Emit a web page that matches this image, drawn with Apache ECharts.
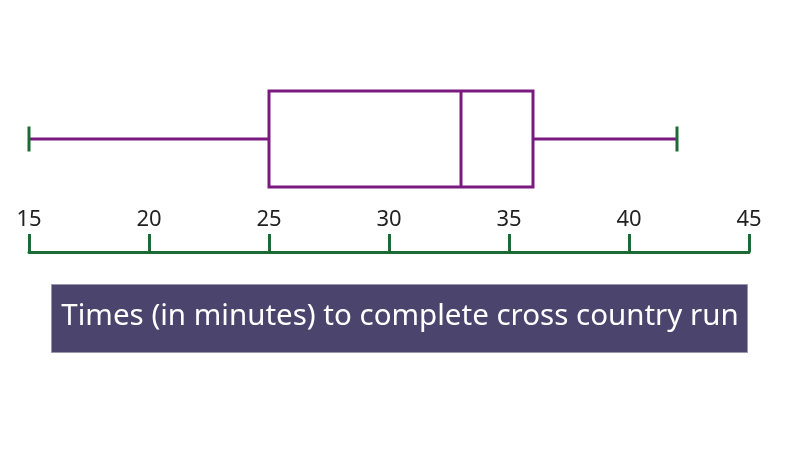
<!DOCTYPE html>
<html><head><meta charset="utf-8">
<script src="https://cdn.jsdelivr.net/npm/echarts@6/dist/echarts.min.js"></script>
<style>html,body{margin:0;padding:0;background:#fff}#c{width:800px;height:450px}</style>
</head><body><div id="c"></div>
<script>
const categories = ['Times'];
const boxValues = [[15, 25, 33, 36, 42]]; // min, Q1, median, Q3, max
const axisMin = 15, axisMax = 45, axisStep = 5;
const titleText = 'Times (in minutes) to complete cross country run';

const purple = '#7a1a80', green = '#1c6b34';
const chart = echarts.init(document.getElementById('c'));
chart.setOption({
  animation: false,
  grid: [
    {left: 29, right: 51, top: 60, bottom: 198},
    {left: 29, right: 51, top: 91, height: 96}
  ],
  xAxis: [
    {gridIndex: 0, type: 'value', min: axisMin, max: axisMax, interval: axisStep,
     axisLine: {show: true, lineStyle: {color: green, width: 3}},
     axisTick: {show: true, inside: true, length: 18, lineStyle: {color: green, width: 3}},
     axisLabel: {inside: true, margin: 21, color: '#222', fontSize: 22, fontFamily: 'Noto Sans',
                 verticalAlign: 'bottom'},
     splitLine: {show: false}},
    {gridIndex: 1, type: 'value', min: axisMin, max: axisMax, show: false}
  ],
  yAxis: [
    {gridIndex: 0, type: 'value', show: false},
    {gridIndex: 1, type: 'category', data: categories, show: false}
  ],
  series: [{
    type: 'custom', xAxisIndex: 1, yAxisIndex: 1,
    data: boxValues.map((v, i) => [i].concat(v)),
    encode: {x: [1, 2, 3, 4, 5], y: 0},
    renderItem: function (params, api) {
      const ci = api.value(0);
      const band = api.size([0, 1])[1];
      const pMin = api.coord([api.value(1), ci]);
      const pQ1 = api.coord([api.value(2), ci]);
      const pMed = api.coord([api.value(3), ci]);
      const pQ3 = api.coord([api.value(4), ci]);
      const pMax = api.coord([api.value(5), ci]);
      const cy = pMin[1];
      const h = band, top = cy - h / 2, bot = cy + h / 2;
      const capH = 25;
      const ls = {stroke: purple, lineWidth: 3, fill: null};
      return {type: 'group', children: [
        {type: 'line', shape: {x1: pMin[0], y1: cy, x2: pQ1[0], y2: cy}, style: ls},
        {type: 'line', shape: {x1: pQ3[0], y1: cy, x2: pMax[0], y2: cy}, style: ls},
        {type: 'rect', shape: {x: pQ1[0], y: top, width: pQ3[0] - pQ1[0], height: h}, style: ls},
        {type: 'line', shape: {x1: pMed[0], y1: top, x2: pMed[0], y2: bot}, style: ls},
        {type: 'line', shape: {x1: pMin[0], y1: cy - capH / 2, x2: pMin[0], y2: cy + capH / 2},
         style: {stroke: green, lineWidth: 3}},
        {type: 'line', shape: {x1: pMax[0], y1: cy - capH / 2, x2: pMax[0], y2: cy + capH / 2},
         style: {stroke: green, lineWidth: 3}}
      ]};
    }
  }],
  graphic: [
    {type: 'rect', left: 51, top: 284, shape: {width: 696, height: 68},
     style: {fill: '#4b456e', stroke: '#9a96b0', lineWidth: 1}},
    {type: 'text', left: 'center', top: 302,
     style: {text: titleText, fill: '#fff', fontSize: 29.5, fontFamily: 'Noto Sans'}}
  ]
});
</script></body></html>
